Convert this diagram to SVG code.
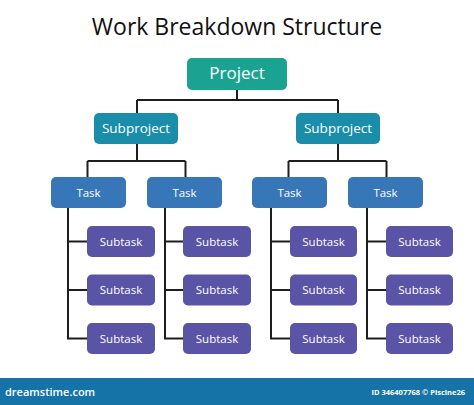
<svg xmlns="http://www.w3.org/2000/svg" width="474" height="405" viewBox="0 0 474 405">
<style>
text{font-family:"Open Sans","Noto Sans","Liberation Sans",sans-serif;text-anchor:middle}
.t{fill:#111;font-size:23px}
.proj{fill:#1ba392}
.sub{fill:#1a8dab}
.task{fill:#3877b7}
.st{fill:#5a54a6}
.lbl{fill:#fff}
.c{stroke:#1e1e1e;stroke-width:2;fill:none}
</style>
<rect width="474" height="405" fill="#fff"/>
<text class="t" x="237" y="35">Work Breakdown Structure</text>

<g id="connectors">
<path class="c" d="M237 90V100M137 100H338M137 100V113M338 100V113"/>
<path class="c" d="M137 144V161M87.5 161H185.5M87.5 161V177M185.5 161V177"/>
<path class="c" d="M338 144V161M288.5 161H386.5M288.5 161V177M386.5 161V177"/>
<path class="c" d="M68 208V338.5H87M68 241.5H87M68 290H87"/>
<path class="c" d="M165 208V338.5H183M165 241.5H183M165 290H183"/>
<path class="c" d="M271 208V338.5H290M271 241.5H290M271 290H290"/>
<path class="c" d="M367 208V338.5H386M367 241.5H386M367 290H386"/>
</g>

<g id="project"><rect class="proj" x="187" y="58" width="100" height="32" rx="5"/><text class="lbl" x="237" y="79" font-size="17">Project</text></g>
<g id="subproject1"><rect class="sub" x="94" y="113" width="84" height="31" rx="5"/><text class="lbl" x="136" y="133" font-size="13.5">Subproject</text></g>
<g id="subproject2"><rect class="sub" x="296" y="113" width="84" height="31" rx="5"/><text class="lbl" x="338" y="133" font-size="13.5">Subproject</text></g>

<g id="task1"><rect class="task" x="51" y="177" width="75" height="31" rx="5"/><text class="lbl" x="88.5" y="196.5" font-size="11.5">Task</text></g>
<g id="task2"><rect class="task" x="147" y="177" width="75" height="31" rx="5"/><text class="lbl" x="184.5" y="196.5" font-size="11.5">Task</text></g>
<g id="task3"><rect class="task" x="252" y="177" width="75" height="31" rx="5"/><text class="lbl" x="289.5" y="196.5" font-size="11.5">Task</text></g>
<g id="task4"><rect class="task" x="348" y="177" width="75" height="31" rx="5"/><text class="lbl" x="385.5" y="196.5" font-size="11.5">Task</text></g>

<g id="subtask1-1"><rect class="st" x="87" y="226" width="68" height="31" rx="5"/><text class="lbl" x="121" y="245.5" font-size="11.5">Subtask</text></g>
<g id="subtask1-2"><rect class="st" x="87" y="274.5" width="68" height="31" rx="5"/><text class="lbl" x="121" y="294" font-size="11.5">Subtask</text></g>
<g id="subtask1-3"><rect class="st" x="87" y="323" width="68" height="31" rx="5"/><text class="lbl" x="121" y="342.5" font-size="11.5">Subtask</text></g>

<g id="subtask2-1"><rect class="st" x="183" y="226" width="68" height="31" rx="5"/><text class="lbl" x="217" y="245.5" font-size="11.5">Subtask</text></g>
<g id="subtask2-2"><rect class="st" x="183" y="274.5" width="68" height="31" rx="5"/><text class="lbl" x="217" y="294" font-size="11.5">Subtask</text></g>
<g id="subtask2-3"><rect class="st" x="183" y="323" width="68" height="31" rx="5"/><text class="lbl" x="217" y="342.5" font-size="11.5">Subtask</text></g>

<g id="subtask3-1"><rect class="st" x="290" y="226" width="67" height="31" rx="5"/><text class="lbl" x="323.5" y="245.5" font-size="11.5">Subtask</text></g>
<g id="subtask3-2"><rect class="st" x="290" y="274.5" width="67" height="31" rx="5"/><text class="lbl" x="323.5" y="294" font-size="11.5">Subtask</text></g>
<g id="subtask3-3"><rect class="st" x="290" y="323" width="67" height="31" rx="5"/><text class="lbl" x="323.5" y="342.5" font-size="11.5">Subtask</text></g>

<g id="subtask4-1"><rect class="st" x="386" y="226" width="67" height="31" rx="5"/><text class="lbl" x="419.5" y="245.5" font-size="11.5">Subtask</text></g>
<g id="subtask4-2"><rect class="st" x="386" y="274.5" width="67" height="31" rx="5"/><text class="lbl" x="419.5" y="294" font-size="11.5">Subtask</text></g>
<g id="subtask4-3"><rect class="st" x="386" y="323" width="67" height="31" rx="5"/><text class="lbl" x="419.5" y="342.5" font-size="11.5">Subtask</text></g>

<rect x="0" y="378" width="474" height="27" fill="#1573a8"/>
<text x="5" y="396" font-size="11" font-weight="600" fill="#fff" style="text-anchor:start">dreamstime.com</text>
<text x="465" y="395" font-size="7.5" font-weight="bold" fill="#fff" style="text-anchor:end">ID 346407768 © Piscine26</text>
</svg>
